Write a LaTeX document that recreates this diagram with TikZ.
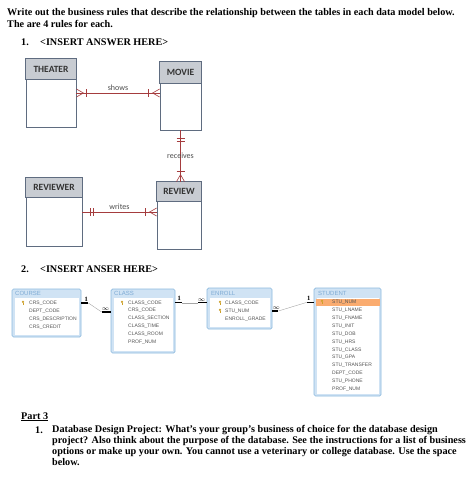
\documentclass[tikz,border=0pt]{standalone}
\usepackage{fontspec}
\setmainfont{Liberation Serif}
\newfontfamily\erfont{Carlito}
\newfontfamily\accfont{Liberation Sans}
\usetikzlibrary{positioning,calc}
\definecolor{erline}{RGB}{165,60,62}
\definecolor{erborder}{RGB}{95,108,128}
\definecolor{erhead}{RGB}{200,204,210}
\definecolor{accborder}{RGB}{140,185,222}
\definecolor{acchead}{RGB}{208,227,244}
\definecolor{acctitle}{RGB}{125,170,212}
\definecolor{accfield}{RGB}{85,85,85}
\definecolor{keygold}{RGB}{205,160,40}
\definecolor{stuhl}{RGB}{250,172,112}

\tikzset{
  question/.style={anchor=base west, inner sep=0, font=\bfseries\fontsize{10.2}{12}\selectfont},
  erbox/.style={draw=erborder, fill=white, line width=0.8pt, inner sep=0},
  erhdr/.style={draw=erborder, fill=erhead, line width=0.8pt},
  ertitle/.style={font=\erfont\bfseries\fontsize{9.5}{10}\selectfont, text=black!80},
  erline/.style={draw=erline, line width=0.6pt},
  erlabel/.style={font=\erfont\fontsize{8}{8}\selectfont, text=black!70, inner sep=0},
  acctable/.style={draw=accborder, fill=acchead, rounded corners=1.5pt, line width=0.7pt, inner sep=0},
  acctitle/.style={anchor=west, inner sep=0, font=\accfont\fontsize{6}{7}\selectfont, text=acctitle},
  accfield/.style={anchor=west, inner sep=0, font=\accfont\fontsize{5}{6}\selectfont, text=accfield},
  acclink/.style={draw=gray!70, line width=0.4pt},
  accend/.style={draw=black, line width=1.1pt},
  accmark/.style={inner sep=0, font=\fontsize{6.5}{6}\selectfont\bfseries},
  dbkey/.pic={
    \fill[keygold] (0,-1.2) circle (1.2);
    \draw[keygold, line width=0.7pt] (0,-0.2) -- (0,2.4) (0,1.8) -- (0.9,1.8);
  }
}

\begin{document}
\begin{tikzpicture}[x=1pt,y=-1pt]
\useasboundingbox (0,0) rectangle (474,482);

% heading and first question
\node[question] (intro) at (7,15) {Write out the business rules that describe the relationship between the tables in each data model below.};
\node[question] (intro2) at (7,27) {The are 4 rules for each.};
\node[question] (q1num) at (21,45) {1.};
\node[question] (q1) at (40,45) {<INSERT ANSWER HERE>};

% entity boxes
\node[erbox, minimum width=50, minimum height=68] (theater) at (51,93) {};
\node[erbox, minimum width=41, minimum height=68] (movie) at (180.5,96) {};
\node[erbox, minimum width=56, minimum height=68] (reviewer) at (54,212) {};
\node[erbox, minimum width=44, minimum height=67] (review) at (179,215.5) {};

% entity headers
\draw[erhdr] (theater.north west) rectangle ([yshift=-21pt]theater.north east);
\draw[erhdr] (movie.north west) rectangle ([yshift=-22pt]movie.north east);
\draw[erhdr] (reviewer.north west) rectangle ([yshift=-20pt]reviewer.north east);
\draw[erhdr] (review.north west) rectangle ([yshift=-20pt]review.north east);
\node[ertitle] (theatername) at ([yshift=-10.5pt]theater.north) {THEATER};
\node[ertitle] (moviename) at ([yshift=-11pt]movie.north) {MOVIE};
\node[ertitle] (reviewername) at ([yshift=-10pt]reviewer.north) {REVIEWER};
\node[ertitle] (reviewname) at ([yshift=-10pt]review.north) {REVIEW};

% shows: many to many
\draw[erline] (theater.east) -- (theater.east -| movie.west) node[erlabel, midway, yshift=5pt] (shows) {shows};
\draw[erline] ([yshift=4pt]theater.east) -- ([xshift=7pt]theater.east) -- ([yshift=-4pt]theater.east);
\draw[erline] ([xshift=10pt, yshift=4pt]theater.east) -- ([xshift=10pt, yshift=-4pt]theater.east);
\coordinate (showsend) at (theater.east -| movie.west);
\draw[erline] ([yshift=4pt]showsend) -- ([xshift=-7pt]showsend) -- ([yshift=-4pt]showsend);
\draw[erline] ([xshift=-11pt, yshift=4pt]showsend) -- ([xshift=-11pt, yshift=-4pt]showsend);

% receives: one to many
\draw[erline] (movie.south) -- (review.north -| movie.south) node[erlabel, midway] (receives) {receives};
\draw[erline] ([xshift=-4pt, yshift=-8pt]movie.south) -- ([xshift=4pt, yshift=-8pt]movie.south);
\draw[erline] ([xshift=-4pt, yshift=-11pt]movie.south) -- ([xshift=4pt, yshift=-11pt]movie.south);
\coordinate (receivesend) at (review.north -| movie.south);
\draw[erline] ([xshift=-4pt]receivesend) -- ([yshift=7pt]receivesend) -- ([xshift=4pt]receivesend);
\draw[erline] ([xshift=-4pt, yshift=10pt]receivesend) -- ([xshift=4pt, yshift=10pt]receivesend);

% writes: one to many
\coordinate (writesend) at (reviewer.east -| review.west);
\draw[erline] (reviewer.east) -- (writesend) node[erlabel, midway, yshift=5pt] (writes) {writes};
\draw[erline] ([xshift=8pt, yshift=4pt]reviewer.east) -- ([xshift=8pt, yshift=-4pt]reviewer.east);
\draw[erline] ([xshift=11pt, yshift=4pt]reviewer.east) -- ([xshift=11pt, yshift=-4pt]reviewer.east);
\draw[erline] ([yshift=4pt]writesend) -- ([xshift=-7pt]writesend) -- ([yshift=-4pt]writesend);
\draw[erline] ([xshift=-11pt, yshift=4pt]writesend) -- ([xshift=-11pt, yshift=-4pt]writesend);

% second question
\node[question] (q2num) at (21,272) {2.};
\node[question] (q2) at (40,272) {<INSERT ANSER HERE>};

% access tables
\node[acctable, minimum width=69, minimum height=48] (course) at (46.5,313) {};
\node[acctable, minimum width=64, minimum height=64] (class) at (143,321) {};
\node[acctable, minimum width=65, minimum height=41] (enroll) at (239.5,308.5) {};
\node[acctable, minimum width=67, minimum height=108] (student) at (347.5,342) {};
\fill[white] (15,298) rectangle (79,335);
\fill[white] (114,298) rectangle (173,351);
\fill[white] (210,298) rectangle (270,327);
\fill[white] (317,298) rectangle (379,394);
\fill[stuhl] (316,299) rectangle (380,305.5);

% table titles
\node[acctitle] (coursename) at (15,293.5) {COURSE};
\node[acctitle] (classname) at (114,293.5) {CLASS};
\node[acctitle] (enrollname) at (211,293) {ENROLL};
\node[acctitle] (studentname) at (318,293) {STUDENT};

% table fields
\foreach \fname [count=\i] in {CRS\_CODE, DEPT\_CODE, CRS\_DESCRIPTION, CRS\_CREDIT}
  \node[accfield] (course\i) at (29,{295+8*\i}) {\fname};
\foreach \fname [count=\i] in {CLASS\_CODE, CRS\_CODE, CLASS\_SECTION, CLASS\_TIME, CLASS\_ROOM, PROF\_NUM}
  \node[accfield] (class\i) at (128,{295+7.8*\i}) {\fname};
\foreach \fname [count=\i] in {CLASS\_CODE, STU\_NUM, ENROLL\_GRADE}
  \node[accfield] (enroll\i) at (225,{295+8*\i}) {\fname};
\foreach \fname [count=\i] in {STU\_NUM, STU\_LNAME, STU\_FNAME, STU\_INIT, STU\_DOB, STU\_HRS, STU\_CLASS, STU\_GPA, STU\_TRANSFER, DEPT\_CODE, STU\_PHONE, PROF\_NUM}
  \node[accfield] (student\i) at (332,{294.5+7.9*\i}) {\fname};

% primary keys
\pic at (23,303) {dbkey};
\pic at (122,303) {dbkey};
\pic at (220,303) {dbkey};
\pic at (220,311) {dbkey};
\pic at (322,302) {dbkey};

% relationships
\coordinate (c1a) at (course.east |- course1);
\coordinate (c1b) at (class.west |- 0,312);
\draw[accend] (c1a) -- ++(7,0) coordinate (c1aa);
\draw[accend] (c1b) -- ++(-9,0) coordinate (c1bb);
\draw[acclink] (c1aa) -- (c1bb);
\node[accmark] (c1one) at ([xshift=-2pt, yshift=3.5pt]c1aa) {1};
\node[accmark] (c1many) at ([xshift=4pt, yshift=3pt]c1bb) {$\infty$};

\coordinate (c2a) at (class.east |- class1);
\coordinate (c2b) at (enroll.west |- class1);
\draw[accend] (c2a) -- ++(7,0) coordinate (c2aa);
\draw[accend] (c2b) -- ++(-9,0) coordinate (c2bb);
\draw[acclink] (c2aa) -- (c2bb);
\node[accmark] (c2one) at ([xshift=-3pt, yshift=4pt]c2aa) {1};
\node[accmark] (c2many) at ([xshift=4pt, yshift=3pt]c2bb) {$\infty$};

\coordinate (c3a) at (enroll.east |- 0,311);
\coordinate (c3b) at (student.west |- student1);
\draw[accend] (c3a) -- ++(6,0) coordinate (c3aa);
\draw[accend] (c3b) -- ++(-7,0) coordinate (c3bb);
\draw[acclink] (c3aa) -- (c3bb);
\node[accmark] (c3many) at ([xshift=-2pt, yshift=3pt]c3aa) {$\infty$};
\node[accmark] (c3one) at ([xshift=2pt, yshift=4pt]c3bb) {1};

% part 3
\node[question] (part3) at (21,419) {\underline{Part 3}};
\node[question] (p3num) at (35,433) {1.};
\node[question, anchor=north west, align=left, font=\bfseries\fontsize{10.2}{11}\selectfont] (p3text) at (52,425.5) {Database Design Project: What's your group's business of choice for the database design\\project? Also think about the purpose of the database. See the instructions for a list of business\\options or make up your own. You cannot use a veterinary or college database. Use the space\\below.};

\end{tikzpicture}
\end{document}
